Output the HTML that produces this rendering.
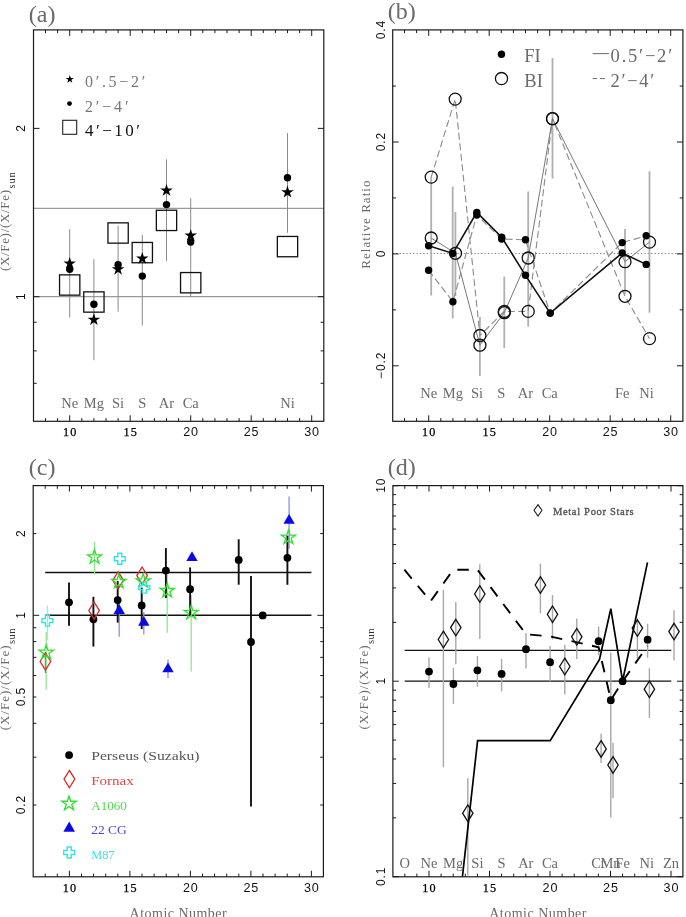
<!DOCTYPE html>
<html><head><meta charset="utf-8"><style>html,body{margin:0;padding:0;background:#fff;}svg{display:block;will-change:transform;}</style></head><body>
<svg width="686" height="917" viewBox="0 0 686 917">
<rect width="686" height="917" fill="#fff"/>
<line x1="33.5" y1="296.7" x2="323.8" y2="296.7" stroke="#9a9a9a" stroke-width="1.2" />
<line x1="33.5" y1="208.4" x2="323.8" y2="208.4" stroke="#9a9a9a" stroke-width="1.2" />
<line x1="69.7" y1="229.2" x2="69.7" y2="317.4" stroke="#8a8a8a" stroke-width="1" />
<line x1="93.9" y1="259" x2="93.9" y2="360.2" stroke="#8a8a8a" stroke-width="1" />
<line x1="118.1" y1="225.7" x2="118.1" y2="311.7" stroke="#8a8a8a" stroke-width="1" />
<line x1="142.3" y1="234.9" x2="142.3" y2="325.4" stroke="#8a8a8a" stroke-width="1" />
<line x1="166.5" y1="159.4" x2="166.5" y2="260.9" stroke="#8a8a8a" stroke-width="1" />
<line x1="190.7" y1="198.2" x2="190.7" y2="297.1" stroke="#8a8a8a" stroke-width="1" />
<line x1="287.5" y1="133.1" x2="287.5" y2="232.8" stroke="#8a8a8a" stroke-width="1" />
<rect x="59.55" y="274.85" width="20.3" height="20.3" fill="none" stroke="#111" stroke-width="1.3"/>
<rect x="83.75" y="291.85" width="20.3" height="20.3" fill="none" stroke="#111" stroke-width="1.3"/>
<rect x="107.95" y="222.85" width="20.3" height="20.3" fill="none" stroke="#111" stroke-width="1.3"/>
<rect x="132.15" y="242.45" width="20.3" height="20.3" fill="none" stroke="#111" stroke-width="1.3"/>
<rect x="156.35" y="210.25" width="20.3" height="20.3" fill="none" stroke="#111" stroke-width="1.3"/>
<rect x="180.55" y="272.55" width="20.3" height="20.3" fill="none" stroke="#111" stroke-width="1.3"/>
<rect x="277.35" y="236.45" width="20.3" height="20.3" fill="none" stroke="#111" stroke-width="1.3"/>
<circle cx="69.7" cy="269.3" r="3.7" fill="#000"/>
<circle cx="93.9" cy="304.3" r="3.7" fill="#000"/>
<circle cx="118.1" cy="264.7" r="3.7" fill="#000"/>
<circle cx="142.3" cy="276.1" r="3.7" fill="#000"/>
<circle cx="166.5" cy="204.6" r="3.7" fill="#000"/>
<circle cx="190.7" cy="242" r="3.7" fill="#000"/>
<circle cx="287.5" cy="177.7" r="3.7" fill="#000"/>
<polygon points="69.7,256.9 71.18,261.46 75.98,261.46 72.1,264.28 73.58,268.84 69.7,266.02 65.82,268.84 67.3,264.28 63.42,261.46 68.22,261.46" fill="#000"/>
<polygon points="93.9,313.1 95.38,317.66 100.18,317.66 96.3,320.48 97.78,325.04 93.9,322.22 90.02,325.04 91.5,320.48 87.62,317.66 92.42,317.66" fill="#000"/>
<polygon points="118.1,262.7 119.58,267.26 124.38,267.26 120.5,270.08 121.98,274.64 118.1,271.82 114.22,274.64 115.7,270.08 111.82,267.26 116.62,267.26" fill="#000"/>
<polygon points="142.3,251.9 143.78,256.46 148.58,256.46 144.7,259.28 146.18,263.84 142.3,261.02 138.42,263.84 139.9,259.28 136.02,256.46 140.82,256.46" fill="#000"/>
<polygon points="166.5,183.9 167.98,188.46 172.78,188.46 168.9,191.28 170.38,195.84 166.5,193.02 162.62,195.84 164.1,191.28 160.22,188.46 165.02,188.46" fill="#000"/>
<polygon points="190.7,228.9 192.18,233.46 196.98,233.46 193.1,236.28 194.58,240.84 190.7,238.02 186.82,240.84 188.3,236.28 184.42,233.46 189.22,233.46" fill="#000"/>
<polygon points="287.5,185.6 288.98,190.16 293.78,190.16 289.9,192.98 291.38,197.54 287.5,194.72 283.62,197.54 285.1,192.98 281.22,190.16 286.02,190.16" fill="#000"/>
<polygon points="69.8,75 70.77,77.97 73.89,77.97 71.36,79.81 72.33,82.78 69.8,80.94 67.27,82.78 68.24,79.81 65.71,77.97 68.83,77.97" fill="#000"/>
<circle cx="69.5" cy="103.6" r="2.4" fill="#000"/>
<rect x="62.7" y="120.3" width="14" height="14" fill="none" stroke="#222" stroke-width="1.1"/>
<rect x="33.5" y="29.9" width="290.3" height="391.4" fill="none" stroke="#1a1a1a" stroke-width="1.2"/>
<line x1="45.5" y1="421.3" x2="45.5" y2="418.1" stroke="#1a1a1a" stroke-width="1" />
<line x1="45.5" y1="29.9" x2="45.5" y2="33.1" stroke="#1a1a1a" stroke-width="1" />
<line x1="57.6" y1="421.3" x2="57.6" y2="418.1" stroke="#1a1a1a" stroke-width="1" />
<line x1="57.6" y1="29.9" x2="57.6" y2="33.1" stroke="#1a1a1a" stroke-width="1" />
<line x1="69.7" y1="421.3" x2="69.7" y2="415.3" stroke="#1a1a1a" stroke-width="1" />
<line x1="69.7" y1="29.9" x2="69.7" y2="35.9" stroke="#1a1a1a" stroke-width="1" />
<line x1="81.8" y1="421.3" x2="81.8" y2="418.1" stroke="#1a1a1a" stroke-width="1" />
<line x1="81.8" y1="29.9" x2="81.8" y2="33.1" stroke="#1a1a1a" stroke-width="1" />
<line x1="93.9" y1="421.3" x2="93.9" y2="418.1" stroke="#1a1a1a" stroke-width="1" />
<line x1="93.9" y1="29.9" x2="93.9" y2="33.1" stroke="#1a1a1a" stroke-width="1" />
<line x1="106" y1="421.3" x2="106" y2="418.1" stroke="#1a1a1a" stroke-width="1" />
<line x1="106" y1="29.9" x2="106" y2="33.1" stroke="#1a1a1a" stroke-width="1" />
<line x1="118.1" y1="421.3" x2="118.1" y2="418.1" stroke="#1a1a1a" stroke-width="1" />
<line x1="118.1" y1="29.9" x2="118.1" y2="33.1" stroke="#1a1a1a" stroke-width="1" />
<line x1="130.2" y1="421.3" x2="130.2" y2="415.3" stroke="#1a1a1a" stroke-width="1" />
<line x1="130.2" y1="29.9" x2="130.2" y2="35.9" stroke="#1a1a1a" stroke-width="1" />
<line x1="142.3" y1="421.3" x2="142.3" y2="418.1" stroke="#1a1a1a" stroke-width="1" />
<line x1="142.3" y1="29.9" x2="142.3" y2="33.1" stroke="#1a1a1a" stroke-width="1" />
<line x1="154.4" y1="421.3" x2="154.4" y2="418.1" stroke="#1a1a1a" stroke-width="1" />
<line x1="154.4" y1="29.9" x2="154.4" y2="33.1" stroke="#1a1a1a" stroke-width="1" />
<line x1="166.5" y1="421.3" x2="166.5" y2="418.1" stroke="#1a1a1a" stroke-width="1" />
<line x1="166.5" y1="29.9" x2="166.5" y2="33.1" stroke="#1a1a1a" stroke-width="1" />
<line x1="178.6" y1="421.3" x2="178.6" y2="418.1" stroke="#1a1a1a" stroke-width="1" />
<line x1="178.6" y1="29.9" x2="178.6" y2="33.1" stroke="#1a1a1a" stroke-width="1" />
<line x1="190.7" y1="421.3" x2="190.7" y2="415.3" stroke="#1a1a1a" stroke-width="1" />
<line x1="190.7" y1="29.9" x2="190.7" y2="35.9" stroke="#1a1a1a" stroke-width="1" />
<line x1="202.8" y1="421.3" x2="202.8" y2="418.1" stroke="#1a1a1a" stroke-width="1" />
<line x1="202.8" y1="29.9" x2="202.8" y2="33.1" stroke="#1a1a1a" stroke-width="1" />
<line x1="214.9" y1="421.3" x2="214.9" y2="418.1" stroke="#1a1a1a" stroke-width="1" />
<line x1="214.9" y1="29.9" x2="214.9" y2="33.1" stroke="#1a1a1a" stroke-width="1" />
<line x1="227" y1="421.3" x2="227" y2="418.1" stroke="#1a1a1a" stroke-width="1" />
<line x1="227" y1="29.9" x2="227" y2="33.1" stroke="#1a1a1a" stroke-width="1" />
<line x1="239.1" y1="421.3" x2="239.1" y2="418.1" stroke="#1a1a1a" stroke-width="1" />
<line x1="239.1" y1="29.9" x2="239.1" y2="33.1" stroke="#1a1a1a" stroke-width="1" />
<line x1="251.2" y1="421.3" x2="251.2" y2="415.3" stroke="#1a1a1a" stroke-width="1" />
<line x1="251.2" y1="29.9" x2="251.2" y2="35.9" stroke="#1a1a1a" stroke-width="1" />
<line x1="263.3" y1="421.3" x2="263.3" y2="418.1" stroke="#1a1a1a" stroke-width="1" />
<line x1="263.3" y1="29.9" x2="263.3" y2="33.1" stroke="#1a1a1a" stroke-width="1" />
<line x1="275.4" y1="421.3" x2="275.4" y2="418.1" stroke="#1a1a1a" stroke-width="1" />
<line x1="275.4" y1="29.9" x2="275.4" y2="33.1" stroke="#1a1a1a" stroke-width="1" />
<line x1="287.5" y1="421.3" x2="287.5" y2="418.1" stroke="#1a1a1a" stroke-width="1" />
<line x1="287.5" y1="29.9" x2="287.5" y2="33.1" stroke="#1a1a1a" stroke-width="1" />
<line x1="299.6" y1="421.3" x2="299.6" y2="418.1" stroke="#1a1a1a" stroke-width="1" />
<line x1="299.6" y1="29.9" x2="299.6" y2="33.1" stroke="#1a1a1a" stroke-width="1" />
<line x1="311.7" y1="421.3" x2="311.7" y2="415.3" stroke="#1a1a1a" stroke-width="1" />
<line x1="311.7" y1="29.9" x2="311.7" y2="35.9" stroke="#1a1a1a" stroke-width="1" />
<line x1="33.5" y1="296.7" x2="39.5" y2="296.7" stroke="#1a1a1a" stroke-width="1" />
<line x1="323.8" y1="296.7" x2="317.8" y2="296.7" stroke="#1a1a1a" stroke-width="1" />
<line x1="33.5" y1="128.39" x2="39.5" y2="128.39" stroke="#1a1a1a" stroke-width="1" />
<line x1="323.8" y1="128.39" x2="317.8" y2="128.39" stroke="#1a1a1a" stroke-width="1" />
<line x1="33.5" y1="383.31" x2="36.7" y2="383.31" stroke="#1a1a1a" stroke-width="1" />
<line x1="323.8" y1="383.31" x2="320.6" y2="383.31" stroke="#1a1a1a" stroke-width="1" />
<line x1="33.5" y1="350.88" x2="36.7" y2="350.88" stroke="#1a1a1a" stroke-width="1" />
<line x1="323.8" y1="350.88" x2="320.6" y2="350.88" stroke="#1a1a1a" stroke-width="1" />
<line x1="33.5" y1="322.28" x2="36.7" y2="322.28" stroke="#1a1a1a" stroke-width="1" />
<line x1="323.8" y1="322.28" x2="320.6" y2="322.28" stroke="#1a1a1a" stroke-width="1" />
<line x1="392.7" y1="253.5" x2="682.9" y2="253.5" stroke="#8a8a8a" stroke-width="1" stroke-dasharray="1.4 2"/>
<line x1="431.2" y1="177" x2="431.2" y2="295.5" stroke="#b0b0b0" stroke-width="1.8" />
<line x1="452.7" y1="186.5" x2="452.7" y2="318.5" stroke="#b0b0b0" stroke-width="1.8" />
<line x1="455.4" y1="212" x2="455.4" y2="296" stroke="#b0b0b0" stroke-width="1.8" />
<line x1="479.9" y1="317" x2="479.9" y2="376" stroke="#b0b0b0" stroke-width="1.8" />
<line x1="504.3" y1="276.6" x2="504.3" y2="348.1" stroke="#b0b0b0" stroke-width="1.8" />
<line x1="528.2" y1="191.4" x2="528.2" y2="326.6" stroke="#b0b0b0" stroke-width="1.8" />
<line x1="552.5" y1="58" x2="552.5" y2="178.6" stroke="#b0b0b0" stroke-width="1.8" />
<line x1="625" y1="229" x2="625" y2="294.4" stroke="#b0b0b0" stroke-width="1.8" />
<line x1="649.5" y1="171.3" x2="649.5" y2="312.7" stroke="#b0b0b0" stroke-width="1.8" />
<polyline points="431.2,177.1 455.2,99.1 479.9,335.5 504.3,311.5 528.2,311.4 552.5,118.7 625,296.3 649.5,338.6" fill="none" stroke="#8a8a8a" stroke-width="1.1" stroke-linejoin="miter" stroke-dasharray="7 3.5"/>
<polyline points="428.6,270.3 452.9,301.7 476.8,215 501.7,239 525.5,239.8 550.2,313.1 622.2,242.6 646.2,235.8" fill="none" stroke="#8a8a8a" stroke-width="1.1" stroke-linejoin="miter" stroke-dasharray="7 3.5"/>
<polyline points="431.2,238 455.5,253.3 479.9,345.2 504.3,312.7 528.2,258 552.5,118.7 625,261.7 649.5,242.1" fill="none" stroke="#777" stroke-width="1.0" stroke-linejoin="miter" />
<polyline points="428.6,245.7 452.9,253.4 476.8,212.4 501.7,237.3 525.5,275.3 550.2,313.1 622.2,253 646.2,264.4" fill="none" stroke="#111" stroke-width="1.6" stroke-linejoin="miter" />
<circle cx="428.6" cy="245.7" r="3.7" fill="#000"/>
<circle cx="452.9" cy="253.4" r="3.7" fill="#000"/>
<circle cx="476.8" cy="212.4" r="3.7" fill="#000"/>
<circle cx="501.7" cy="237.3" r="3.7" fill="#000"/>
<circle cx="525.5" cy="275.3" r="3.7" fill="#000"/>
<circle cx="550.2" cy="313.1" r="3.7" fill="#000"/>
<circle cx="622.2" cy="253" r="3.7" fill="#000"/>
<circle cx="646.2" cy="264.4" r="3.7" fill="#000"/>
<circle cx="428.6" cy="270.3" r="3.7" fill="#000"/>
<circle cx="452.9" cy="301.7" r="3.7" fill="#000"/>
<circle cx="476.8" cy="215" r="3.7" fill="#000"/>
<circle cx="501.7" cy="239" r="3.7" fill="#000"/>
<circle cx="525.5" cy="239.8" r="3.7" fill="#000"/>
<circle cx="550.2" cy="313.1" r="3.7" fill="#000"/>
<circle cx="622.2" cy="242.6" r="3.7" fill="#000"/>
<circle cx="646.2" cy="235.8" r="3.7" fill="#000"/>
<circle cx="431.2" cy="238" r="6" fill="none" stroke="#111" stroke-width="1.3"/>
<circle cx="455.5" cy="253.3" r="6" fill="none" stroke="#111" stroke-width="1.3"/>
<circle cx="479.9" cy="345.2" r="6" fill="none" stroke="#111" stroke-width="1.3"/>
<circle cx="504.3" cy="312.7" r="6" fill="none" stroke="#111" stroke-width="1.3"/>
<circle cx="528.2" cy="258" r="6" fill="none" stroke="#111" stroke-width="1.3"/>
<circle cx="552.5" cy="118.7" r="6" fill="none" stroke="#111" stroke-width="1.3"/>
<circle cx="625" cy="261.7" r="6" fill="none" stroke="#111" stroke-width="1.3"/>
<circle cx="649.5" cy="242.1" r="6" fill="none" stroke="#111" stroke-width="1.3"/>
<circle cx="431.2" cy="177.1" r="6" fill="none" stroke="#111" stroke-width="1.3"/>
<circle cx="455.2" cy="99.1" r="6" fill="none" stroke="#111" stroke-width="1.3"/>
<circle cx="479.9" cy="335.5" r="6" fill="none" stroke="#111" stroke-width="1.3"/>
<circle cx="504.3" cy="311.5" r="6" fill="none" stroke="#111" stroke-width="1.3"/>
<circle cx="528.2" cy="311.4" r="6" fill="none" stroke="#111" stroke-width="1.3"/>
<circle cx="552.5" cy="118.7" r="6" fill="none" stroke="#111" stroke-width="1.3"/>
<circle cx="625" cy="296.3" r="6" fill="none" stroke="#111" stroke-width="1.3"/>
<circle cx="649.5" cy="338.6" r="6" fill="none" stroke="#111" stroke-width="1.3"/>
<circle cx="501.5" cy="54.3" r="3.7" fill="#000"/>
<circle cx="501.5" cy="78.6" r="6.1" fill="none" stroke="#111" stroke-width="1.3"/>
<line x1="592.6" y1="53.6" x2="609" y2="53.6" stroke="#777" stroke-width="1.1" />
<line x1="592.6" y1="78.5" x2="597" y2="78.5" stroke="#777" stroke-width="1.1" />
<line x1="600" y1="78.5" x2="605" y2="78.5" stroke="#777" stroke-width="1.1" />
<rect x="392.7" y="29.9" width="290.2" height="391.4" fill="none" stroke="#1a1a1a" stroke-width="1.2"/>
<line x1="404.5" y1="421.3" x2="404.5" y2="418.1" stroke="#1a1a1a" stroke-width="1" />
<line x1="404.5" y1="29.9" x2="404.5" y2="33.1" stroke="#1a1a1a" stroke-width="1" />
<line x1="416.6" y1="421.3" x2="416.6" y2="418.1" stroke="#1a1a1a" stroke-width="1" />
<line x1="416.6" y1="29.9" x2="416.6" y2="33.1" stroke="#1a1a1a" stroke-width="1" />
<line x1="428.7" y1="421.3" x2="428.7" y2="415.3" stroke="#1a1a1a" stroke-width="1" />
<line x1="428.7" y1="29.9" x2="428.7" y2="35.9" stroke="#1a1a1a" stroke-width="1" />
<line x1="440.8" y1="421.3" x2="440.8" y2="418.1" stroke="#1a1a1a" stroke-width="1" />
<line x1="440.8" y1="29.9" x2="440.8" y2="33.1" stroke="#1a1a1a" stroke-width="1" />
<line x1="452.9" y1="421.3" x2="452.9" y2="418.1" stroke="#1a1a1a" stroke-width="1" />
<line x1="452.9" y1="29.9" x2="452.9" y2="33.1" stroke="#1a1a1a" stroke-width="1" />
<line x1="465" y1="421.3" x2="465" y2="418.1" stroke="#1a1a1a" stroke-width="1" />
<line x1="465" y1="29.9" x2="465" y2="33.1" stroke="#1a1a1a" stroke-width="1" />
<line x1="477.1" y1="421.3" x2="477.1" y2="418.1" stroke="#1a1a1a" stroke-width="1" />
<line x1="477.1" y1="29.9" x2="477.1" y2="33.1" stroke="#1a1a1a" stroke-width="1" />
<line x1="489.2" y1="421.3" x2="489.2" y2="415.3" stroke="#1a1a1a" stroke-width="1" />
<line x1="489.2" y1="29.9" x2="489.2" y2="35.9" stroke="#1a1a1a" stroke-width="1" />
<line x1="501.3" y1="421.3" x2="501.3" y2="418.1" stroke="#1a1a1a" stroke-width="1" />
<line x1="501.3" y1="29.9" x2="501.3" y2="33.1" stroke="#1a1a1a" stroke-width="1" />
<line x1="513.4" y1="421.3" x2="513.4" y2="418.1" stroke="#1a1a1a" stroke-width="1" />
<line x1="513.4" y1="29.9" x2="513.4" y2="33.1" stroke="#1a1a1a" stroke-width="1" />
<line x1="525.5" y1="421.3" x2="525.5" y2="418.1" stroke="#1a1a1a" stroke-width="1" />
<line x1="525.5" y1="29.9" x2="525.5" y2="33.1" stroke="#1a1a1a" stroke-width="1" />
<line x1="537.6" y1="421.3" x2="537.6" y2="418.1" stroke="#1a1a1a" stroke-width="1" />
<line x1="537.6" y1="29.9" x2="537.6" y2="33.1" stroke="#1a1a1a" stroke-width="1" />
<line x1="549.7" y1="421.3" x2="549.7" y2="415.3" stroke="#1a1a1a" stroke-width="1" />
<line x1="549.7" y1="29.9" x2="549.7" y2="35.9" stroke="#1a1a1a" stroke-width="1" />
<line x1="561.8" y1="421.3" x2="561.8" y2="418.1" stroke="#1a1a1a" stroke-width="1" />
<line x1="561.8" y1="29.9" x2="561.8" y2="33.1" stroke="#1a1a1a" stroke-width="1" />
<line x1="573.9" y1="421.3" x2="573.9" y2="418.1" stroke="#1a1a1a" stroke-width="1" />
<line x1="573.9" y1="29.9" x2="573.9" y2="33.1" stroke="#1a1a1a" stroke-width="1" />
<line x1="586" y1="421.3" x2="586" y2="418.1" stroke="#1a1a1a" stroke-width="1" />
<line x1="586" y1="29.9" x2="586" y2="33.1" stroke="#1a1a1a" stroke-width="1" />
<line x1="598.1" y1="421.3" x2="598.1" y2="418.1" stroke="#1a1a1a" stroke-width="1" />
<line x1="598.1" y1="29.9" x2="598.1" y2="33.1" stroke="#1a1a1a" stroke-width="1" />
<line x1="610.2" y1="421.3" x2="610.2" y2="415.3" stroke="#1a1a1a" stroke-width="1" />
<line x1="610.2" y1="29.9" x2="610.2" y2="35.9" stroke="#1a1a1a" stroke-width="1" />
<line x1="622.3" y1="421.3" x2="622.3" y2="418.1" stroke="#1a1a1a" stroke-width="1" />
<line x1="622.3" y1="29.9" x2="622.3" y2="33.1" stroke="#1a1a1a" stroke-width="1" />
<line x1="634.4" y1="421.3" x2="634.4" y2="418.1" stroke="#1a1a1a" stroke-width="1" />
<line x1="634.4" y1="29.9" x2="634.4" y2="33.1" stroke="#1a1a1a" stroke-width="1" />
<line x1="646.5" y1="421.3" x2="646.5" y2="418.1" stroke="#1a1a1a" stroke-width="1" />
<line x1="646.5" y1="29.9" x2="646.5" y2="33.1" stroke="#1a1a1a" stroke-width="1" />
<line x1="658.6" y1="421.3" x2="658.6" y2="418.1" stroke="#1a1a1a" stroke-width="1" />
<line x1="658.6" y1="29.9" x2="658.6" y2="33.1" stroke="#1a1a1a" stroke-width="1" />
<line x1="670.7" y1="421.3" x2="670.7" y2="415.3" stroke="#1a1a1a" stroke-width="1" />
<line x1="670.7" y1="29.9" x2="670.7" y2="35.9" stroke="#1a1a1a" stroke-width="1" />
<line x1="392.7" y1="142" x2="398.7" y2="142" stroke="#1a1a1a" stroke-width="1" />
<line x1="682.9" y1="142" x2="676.9" y2="142" stroke="#1a1a1a" stroke-width="1" />
<line x1="392.7" y1="253.9" x2="398.7" y2="253.9" stroke="#1a1a1a" stroke-width="1" />
<line x1="682.9" y1="253.9" x2="676.9" y2="253.9" stroke="#1a1a1a" stroke-width="1" />
<line x1="392.7" y1="365.8" x2="398.7" y2="365.8" stroke="#1a1a1a" stroke-width="1" />
<line x1="682.9" y1="365.8" x2="676.9" y2="365.8" stroke="#1a1a1a" stroke-width="1" />
<line x1="392.7" y1="86.05" x2="395.9" y2="86.05" stroke="#1a1a1a" stroke-width="1" />
<line x1="682.9" y1="86.05" x2="679.7" y2="86.05" stroke="#1a1a1a" stroke-width="1" />
<line x1="392.7" y1="197.95" x2="395.9" y2="197.95" stroke="#1a1a1a" stroke-width="1" />
<line x1="682.9" y1="197.95" x2="679.7" y2="197.95" stroke="#1a1a1a" stroke-width="1" />
<line x1="392.7" y1="309.85" x2="395.9" y2="309.85" stroke="#1a1a1a" stroke-width="1" />
<line x1="682.9" y1="309.85" x2="679.7" y2="309.85" stroke="#1a1a1a" stroke-width="1" />
<line x1="45.2" y1="615.3" x2="311.4" y2="615.3" stroke="#111" stroke-width="1.5" />
<line x1="45.2" y1="572.4" x2="311.4" y2="572.4" stroke="#111" stroke-width="1.5" />
<line x1="47.4" y1="605.6" x2="47.4" y2="640" stroke="#8ef0f0" stroke-width="1.3" />
<line x1="46.2" y1="632" x2="46.2" y2="689.7" stroke="#8ee88e" stroke-width="1.3" />
<line x1="94.5" y1="541.8" x2="94.5" y2="574.5" stroke="#8ee88e" stroke-width="1.3" />
<line x1="119.2" y1="600" x2="119.2" y2="636.7" stroke="#8c8cf0" stroke-width="1.3" />
<line x1="143.8" y1="612" x2="143.8" y2="634.6" stroke="#8c8cf0" stroke-width="1.3" />
<line x1="167.2" y1="575" x2="167.2" y2="632.7" stroke="#8ee88e" stroke-width="1.3" />
<line x1="168" y1="659.4" x2="168" y2="678" stroke="#8c8cf0" stroke-width="1.3" />
<line x1="191.2" y1="595" x2="191.2" y2="671.4" stroke="#8ee88e" stroke-width="1.3" />
<line x1="289.1" y1="496.6" x2="289.1" y2="548.8" stroke="#8c8cf0" stroke-width="1.3" />
<line x1="45.4" y1="652" x2="45.4" y2="673" stroke="#888" stroke-width="1.3" />
<line x1="69" y1="582.6" x2="69" y2="625.8" stroke="#111" stroke-width="1.9" />
<line x1="93.4" y1="596.8" x2="93.4" y2="646.6" stroke="#111" stroke-width="1.9" />
<line x1="117.7" y1="581" x2="117.7" y2="622.6" stroke="#111" stroke-width="1.9" />
<line x1="141.7" y1="587.6" x2="141.7" y2="629.1" stroke="#111" stroke-width="1.9" />
<line x1="165.9" y1="548.1" x2="165.9" y2="598" stroke="#111" stroke-width="1.9" />
<line x1="190.1" y1="567.4" x2="190.1" y2="615.4" stroke="#111" stroke-width="1.9" />
<line x1="238.7" y1="539.3" x2="238.7" y2="584.7" stroke="#111" stroke-width="1.9" />
<line x1="251" y1="575.9" x2="251" y2="806.5" stroke="#111" stroke-width="1.9" />
<line x1="287.4" y1="535.6" x2="287.4" y2="584.8" stroke="#111" stroke-width="1.9" />
<circle cx="69" cy="602.3" r="3.9" fill="#000"/>
<circle cx="93.4" cy="619.3" r="3.9" fill="#000"/>
<circle cx="117.7" cy="600.1" r="3.9" fill="#000"/>
<circle cx="141.7" cy="605.5" r="3.9" fill="#000"/>
<circle cx="165.9" cy="570.6" r="3.9" fill="#000"/>
<circle cx="190.1" cy="589.2" r="3.9" fill="#000"/>
<circle cx="238.7" cy="559.9" r="3.9" fill="#000"/>
<circle cx="251" cy="642" r="3.9" fill="#000"/>
<circle cx="262.7" cy="615.4" r="3.9" fill="#000"/>
<circle cx="287.4" cy="557.8" r="3.9" fill="#000"/>
<polygon points="45.4,652.9 50.7,661.5 45.4,670.1 40.1,661.5" fill="none" stroke="#d82a2a" stroke-width="1.3"/>
<polygon points="94.1,602 99.4,610.6 94.1,619.2 88.8,610.6" fill="none" stroke="#d82a2a" stroke-width="1.3"/>
<polygon points="118.1,571.7 123.4,580.3 118.1,588.9 112.8,580.3" fill="none" stroke="#d82a2a" stroke-width="1.3"/>
<polygon points="142.1,567 147.4,575.6 142.1,584.2 136.8,575.6" fill="none" stroke="#d82a2a" stroke-width="1.3"/>
<polygon points="46.2,645 47.88,650.18 53.33,650.18 48.92,653.39 50.61,658.57 46.2,655.37 41.79,658.57 43.48,653.39 39.07,650.18 44.52,650.18" fill="none" stroke="#2ee02e" stroke-width="1.3" stroke-linejoin="miter"/>
<polygon points="94.5,549.6 96.18,554.78 101.63,554.78 97.22,557.99 98.91,563.17 94.5,559.97 90.09,563.17 91.78,557.99 87.37,554.78 92.82,554.78" fill="none" stroke="#2ee02e" stroke-width="1.3" stroke-linejoin="miter"/>
<polygon points="118.8,574.3 120.48,579.48 125.93,579.48 121.52,582.69 123.21,587.87 118.8,584.66 114.39,587.87 116.08,582.69 111.67,579.48 117.12,579.48" fill="none" stroke="#2ee02e" stroke-width="1.3" stroke-linejoin="miter"/>
<polygon points="143.2,573.6 144.88,578.78 150.33,578.78 145.92,581.99 147.61,587.17 143.2,583.97 138.79,587.17 140.48,581.99 136.07,578.78 141.52,578.78" fill="none" stroke="#2ee02e" stroke-width="1.3" stroke-linejoin="miter"/>
<polygon points="167.2,583.3 168.88,588.48 174.33,588.48 169.92,591.69 171.61,596.87 167.2,593.66 162.79,596.87 164.48,591.69 160.07,588.48 165.52,588.48" fill="none" stroke="#2ee02e" stroke-width="1.3" stroke-linejoin="miter"/>
<polygon points="191.2,605.2 192.88,610.38 198.33,610.38 193.92,613.59 195.61,618.77 191.2,615.57 186.79,618.77 188.48,613.59 184.07,610.38 189.52,610.38" fill="none" stroke="#2ee02e" stroke-width="1.3" stroke-linejoin="miter"/>
<polygon points="288.4,529.9 290.08,535.08 295.53,535.08 291.12,538.29 292.81,543.47 288.4,540.26 283.99,543.47 285.68,538.29 281.27,535.08 286.72,535.08" fill="none" stroke="#2ee02e" stroke-width="1.3" stroke-linejoin="miter"/>
<polygon points="119.2,604.1 124.9,613.9 113.5,613.9" fill="#0a0ae6"/>
<polygon points="143.8,615.9 149.5,625.7 138.1,625.7" fill="#0a0ae6"/>
<polygon points="168,662.5 173.7,672.3 162.3,672.3" fill="#0a0ae6"/>
<polygon points="192,551.3 197.7,561.1 186.3,561.1" fill="#0a0ae6"/>
<polygon points="289.1,513.9 294.8,523.7 283.4,523.7" fill="#0a0ae6"/>
<polygon points="45.4,615.1 49.4,615.1 49.4,618.6 52.9,618.6 52.9,622.6 49.4,622.6 49.4,626.1 45.4,626.1 45.4,622.6 41.9,622.6 41.9,618.6 45.4,618.6" fill="none" stroke="#2ee6e6" stroke-width="1.4"/>
<polygon points="117.8,553.3 121.8,553.3 121.8,556.8 125.3,556.8 125.3,560.8 121.8,560.8 121.8,564.3 117.8,564.3 117.8,560.8 114.3,560.8 114.3,556.8 117.8,556.8" fill="none" stroke="#2ee6e6" stroke-width="1.4"/>
<polygon points="142.3,582.1 146.3,582.1 146.3,585.6 149.8,585.6 149.8,589.6 146.3,589.6 146.3,593.1 142.3,593.1 142.3,589.6 138.8,589.6 138.8,585.6 142.3,585.6" fill="none" stroke="#2ee6e6" stroke-width="1.4"/>
<circle cx="69.1" cy="755.1" r="3.9" fill="#000"/>
<polygon points="69.4,770.4 74.8,779.1 69.4,787.8 64,779.1" fill="none" stroke="#d82a2a" stroke-width="1.3"/>
<polygon points="69,796 70.71,801.25 76.23,801.25 71.76,804.5 73.47,809.75 69,806.5 64.53,809.75 66.24,804.5 61.77,801.25 67.29,801.25" fill="none" stroke="#2ee02e" stroke-width="1.3" stroke-linejoin="miter"/>
<polygon points="69.2,821.5 75,831.7 63.4,831.7" fill="#0a0ae6"/>
<polygon points="67.2,847 71.2,847 71.2,850.5 74.7,850.5 74.7,854.5 71.2,854.5 71.2,858 67.2,858 67.2,854.5 63.7,854.5 63.7,850.5 67.2,850.5" fill="none" stroke="#2ee6e6" stroke-width="1.4"/>
<rect x="33.2" y="485.6" width="290.2" height="391.2" fill="none" stroke="#1a1a1a" stroke-width="1.2"/>
<line x1="45.2" y1="876.8" x2="45.2" y2="873.6" stroke="#1a1a1a" stroke-width="1" />
<line x1="45.2" y1="485.6" x2="45.2" y2="488.8" stroke="#1a1a1a" stroke-width="1" />
<line x1="57.3" y1="876.8" x2="57.3" y2="873.6" stroke="#1a1a1a" stroke-width="1" />
<line x1="57.3" y1="485.6" x2="57.3" y2="488.8" stroke="#1a1a1a" stroke-width="1" />
<line x1="69.4" y1="876.8" x2="69.4" y2="870.8" stroke="#1a1a1a" stroke-width="1" />
<line x1="69.4" y1="485.6" x2="69.4" y2="491.6" stroke="#1a1a1a" stroke-width="1" />
<line x1="81.5" y1="876.8" x2="81.5" y2="873.6" stroke="#1a1a1a" stroke-width="1" />
<line x1="81.5" y1="485.6" x2="81.5" y2="488.8" stroke="#1a1a1a" stroke-width="1" />
<line x1="93.6" y1="876.8" x2="93.6" y2="873.6" stroke="#1a1a1a" stroke-width="1" />
<line x1="93.6" y1="485.6" x2="93.6" y2="488.8" stroke="#1a1a1a" stroke-width="1" />
<line x1="105.7" y1="876.8" x2="105.7" y2="873.6" stroke="#1a1a1a" stroke-width="1" />
<line x1="105.7" y1="485.6" x2="105.7" y2="488.8" stroke="#1a1a1a" stroke-width="1" />
<line x1="117.8" y1="876.8" x2="117.8" y2="873.6" stroke="#1a1a1a" stroke-width="1" />
<line x1="117.8" y1="485.6" x2="117.8" y2="488.8" stroke="#1a1a1a" stroke-width="1" />
<line x1="129.9" y1="876.8" x2="129.9" y2="870.8" stroke="#1a1a1a" stroke-width="1" />
<line x1="129.9" y1="485.6" x2="129.9" y2="491.6" stroke="#1a1a1a" stroke-width="1" />
<line x1="142" y1="876.8" x2="142" y2="873.6" stroke="#1a1a1a" stroke-width="1" />
<line x1="142" y1="485.6" x2="142" y2="488.8" stroke="#1a1a1a" stroke-width="1" />
<line x1="154.1" y1="876.8" x2="154.1" y2="873.6" stroke="#1a1a1a" stroke-width="1" />
<line x1="154.1" y1="485.6" x2="154.1" y2="488.8" stroke="#1a1a1a" stroke-width="1" />
<line x1="166.2" y1="876.8" x2="166.2" y2="873.6" stroke="#1a1a1a" stroke-width="1" />
<line x1="166.2" y1="485.6" x2="166.2" y2="488.8" stroke="#1a1a1a" stroke-width="1" />
<line x1="178.3" y1="876.8" x2="178.3" y2="873.6" stroke="#1a1a1a" stroke-width="1" />
<line x1="178.3" y1="485.6" x2="178.3" y2="488.8" stroke="#1a1a1a" stroke-width="1" />
<line x1="190.4" y1="876.8" x2="190.4" y2="870.8" stroke="#1a1a1a" stroke-width="1" />
<line x1="190.4" y1="485.6" x2="190.4" y2="491.6" stroke="#1a1a1a" stroke-width="1" />
<line x1="202.5" y1="876.8" x2="202.5" y2="873.6" stroke="#1a1a1a" stroke-width="1" />
<line x1="202.5" y1="485.6" x2="202.5" y2="488.8" stroke="#1a1a1a" stroke-width="1" />
<line x1="214.6" y1="876.8" x2="214.6" y2="873.6" stroke="#1a1a1a" stroke-width="1" />
<line x1="214.6" y1="485.6" x2="214.6" y2="488.8" stroke="#1a1a1a" stroke-width="1" />
<line x1="226.7" y1="876.8" x2="226.7" y2="873.6" stroke="#1a1a1a" stroke-width="1" />
<line x1="226.7" y1="485.6" x2="226.7" y2="488.8" stroke="#1a1a1a" stroke-width="1" />
<line x1="238.8" y1="876.8" x2="238.8" y2="873.6" stroke="#1a1a1a" stroke-width="1" />
<line x1="238.8" y1="485.6" x2="238.8" y2="488.8" stroke="#1a1a1a" stroke-width="1" />
<line x1="250.9" y1="876.8" x2="250.9" y2="870.8" stroke="#1a1a1a" stroke-width="1" />
<line x1="250.9" y1="485.6" x2="250.9" y2="491.6" stroke="#1a1a1a" stroke-width="1" />
<line x1="263" y1="876.8" x2="263" y2="873.6" stroke="#1a1a1a" stroke-width="1" />
<line x1="263" y1="485.6" x2="263" y2="488.8" stroke="#1a1a1a" stroke-width="1" />
<line x1="275.1" y1="876.8" x2="275.1" y2="873.6" stroke="#1a1a1a" stroke-width="1" />
<line x1="275.1" y1="485.6" x2="275.1" y2="488.8" stroke="#1a1a1a" stroke-width="1" />
<line x1="287.2" y1="876.8" x2="287.2" y2="873.6" stroke="#1a1a1a" stroke-width="1" />
<line x1="287.2" y1="485.6" x2="287.2" y2="488.8" stroke="#1a1a1a" stroke-width="1" />
<line x1="299.3" y1="876.8" x2="299.3" y2="873.6" stroke="#1a1a1a" stroke-width="1" />
<line x1="299.3" y1="485.6" x2="299.3" y2="488.8" stroke="#1a1a1a" stroke-width="1" />
<line x1="311.4" y1="876.8" x2="311.4" y2="870.8" stroke="#1a1a1a" stroke-width="1" />
<line x1="311.4" y1="485.6" x2="311.4" y2="491.6" stroke="#1a1a1a" stroke-width="1" />
<line x1="33.2" y1="615.3" x2="39.2" y2="615.3" stroke="#1a1a1a" stroke-width="1" />
<line x1="323.4" y1="615.3" x2="317.4" y2="615.3" stroke="#1a1a1a" stroke-width="1" />
<line x1="33.2" y1="805" x2="36.4" y2="805" stroke="#1a1a1a" stroke-width="1" />
<line x1="323.4" y1="805" x2="320.2" y2="805" stroke="#1a1a1a" stroke-width="1" />
<line x1="33.2" y1="757.21" x2="36.4" y2="757.21" stroke="#1a1a1a" stroke-width="1" />
<line x1="323.4" y1="757.21" x2="320.2" y2="757.21" stroke="#1a1a1a" stroke-width="1" />
<line x1="33.2" y1="723.3" x2="36.4" y2="723.3" stroke="#1a1a1a" stroke-width="1" />
<line x1="323.4" y1="723.3" x2="320.2" y2="723.3" stroke="#1a1a1a" stroke-width="1" />
<line x1="33.2" y1="697" x2="36.4" y2="697" stroke="#1a1a1a" stroke-width="1" />
<line x1="323.4" y1="697" x2="320.2" y2="697" stroke="#1a1a1a" stroke-width="1" />
<line x1="33.2" y1="675.51" x2="36.4" y2="675.51" stroke="#1a1a1a" stroke-width="1" />
<line x1="323.4" y1="675.51" x2="320.2" y2="675.51" stroke="#1a1a1a" stroke-width="1" />
<line x1="33.2" y1="657.34" x2="36.4" y2="657.34" stroke="#1a1a1a" stroke-width="1" />
<line x1="323.4" y1="657.34" x2="320.2" y2="657.34" stroke="#1a1a1a" stroke-width="1" />
<line x1="33.2" y1="641.6" x2="36.4" y2="641.6" stroke="#1a1a1a" stroke-width="1" />
<line x1="323.4" y1="641.6" x2="320.2" y2="641.6" stroke="#1a1a1a" stroke-width="1" />
<line x1="33.2" y1="627.72" x2="36.4" y2="627.72" stroke="#1a1a1a" stroke-width="1" />
<line x1="323.4" y1="627.72" x2="320.2" y2="627.72" stroke="#1a1a1a" stroke-width="1" />
<line x1="33.2" y1="533.6" x2="36.4" y2="533.6" stroke="#1a1a1a" stroke-width="1" />
<line x1="323.4" y1="533.6" x2="320.2" y2="533.6" stroke="#1a1a1a" stroke-width="1" />
<line x1="404.7" y1="681.2" x2="671.3" y2="681.2" stroke="#111" stroke-width="1.2" />
<line x1="404.7" y1="650.3" x2="671.3" y2="650.3" stroke="#111" stroke-width="1.2" />
<line x1="429" y1="657.5" x2="429" y2="688" stroke="#a8a8a8" stroke-width="1.4" />
<line x1="453.4" y1="667.9" x2="453.4" y2="703.9" stroke="#a8a8a8" stroke-width="1.4" />
<line x1="477.4" y1="655.9" x2="477.4" y2="686.6" stroke="#a8a8a8" stroke-width="1.4" />
<line x1="501.6" y1="658.8" x2="501.6" y2="691.4" stroke="#a8a8a8" stroke-width="1.4" />
<line x1="526" y1="633.1" x2="526" y2="668.6" stroke="#a8a8a8" stroke-width="1.4" />
<line x1="550.1" y1="646" x2="550.1" y2="681.4" stroke="#a8a8a8" stroke-width="1.4" />
<line x1="598.6" y1="626.4" x2="598.6" y2="655.2" stroke="#a8a8a8" stroke-width="1.4" />
<line x1="610.8" y1="652.6" x2="610.8" y2="817.5" stroke="#a8a8a8" stroke-width="1.4" />
<line x1="647.6" y1="623.8" x2="647.6" y2="657.8" stroke="#a8a8a8" stroke-width="1.4" />
<line x1="443.4" y1="590" x2="443.4" y2="767.4" stroke="#a8a8a8" stroke-width="1.4" />
<line x1="455.8" y1="602" x2="455.8" y2="664.3" stroke="#a8a8a8" stroke-width="1.4" />
<line x1="467.8" y1="778.2" x2="467.8" y2="875.5" stroke="#a8a8a8" stroke-width="1.4" />
<line x1="479.8" y1="564.3" x2="479.8" y2="639.1" stroke="#a8a8a8" stroke-width="1.4" />
<line x1="540.4" y1="563.6" x2="540.4" y2="613.3" stroke="#a8a8a8" stroke-width="1.4" />
<line x1="552.5" y1="595" x2="552.5" y2="639.5" stroke="#a8a8a8" stroke-width="1.4" />
<line x1="564.8" y1="644.7" x2="564.8" y2="694.5" stroke="#a8a8a8" stroke-width="1.4" />
<line x1="576.8" y1="618.6" x2="576.8" y2="659.1" stroke="#a8a8a8" stroke-width="1.4" />
<line x1="601.1" y1="733.8" x2="601.1" y2="763" stroke="#a8a8a8" stroke-width="1.4" />
<line x1="613" y1="742.7" x2="613" y2="798.2" stroke="#a8a8a8" stroke-width="1.4" />
<line x1="637.4" y1="618.6" x2="637.4" y2="657.8" stroke="#a8a8a8" stroke-width="1.4" />
<line x1="649.4" y1="668.3" x2="649.4" y2="718" stroke="#a8a8a8" stroke-width="1.4" />
<line x1="674" y1="610.2" x2="674" y2="660.5" stroke="#a8a8a8" stroke-width="1.4" />
<clipPath id="cd"><rect x="392.9" y="485.6" width="290" height="391.2"/></clipPath>
<polyline points="461.5,885 477.6,740.6 550.2,740.6 599.5,659.5 610.8,608.7 622.6,681 647.5,562.3" fill="none" stroke="#000" stroke-width="1.7" stroke-linejoin="miter" clip-path="url(#cd)"/>
<polyline points="404.4,569.7 430.6,601.3 453.2,569.7 477.4,569.7 526.1,634.3 550.1,636.4 598.6,647.2 610.9,700 622.6,681.4 647.5,646" fill="none" stroke="#000" stroke-width="1.9" stroke-linejoin="miter" stroke-dasharray="11.5 9.5"/>
<circle cx="429" cy="671.6" r="3.9" fill="#000"/>
<circle cx="453.4" cy="684" r="3.9" fill="#000"/>
<circle cx="477.4" cy="670.3" r="3.9" fill="#000"/>
<circle cx="501.6" cy="673.9" r="3.9" fill="#000"/>
<circle cx="526" cy="649.2" r="3.9" fill="#000"/>
<circle cx="550.1" cy="662.2" r="3.9" fill="#000"/>
<circle cx="598.6" cy="641.2" r="3.9" fill="#000"/>
<circle cx="610.8" cy="700.2" r="3.9" fill="#000"/>
<circle cx="622.6" cy="681.2" r="3.9" fill="#000"/>
<circle cx="647.6" cy="639.7" r="3.9" fill="#000"/>
<polygon points="443.4,631.2 448.6,639.5 443.4,647.8 438.2,639.5" fill="none" stroke="#111" stroke-width="1.3"/>
<polygon points="455.8,619.3 461,627.6 455.8,635.9 450.6,627.6" fill="none" stroke="#111" stroke-width="1.3"/>
<polygon points="467.8,804.9 473,813.2 467.8,821.5 462.6,813.2" fill="none" stroke="#111" stroke-width="1.3"/>
<polygon points="479.8,585.7 485,594 479.8,602.3 474.6,594" fill="none" stroke="#111" stroke-width="1.3"/>
<polygon points="540.4,576.7 545.6,585 540.4,593.3 535.2,585" fill="none" stroke="#111" stroke-width="1.3"/>
<polygon points="552.5,606 557.7,614.3 552.5,622.6 547.3,614.3" fill="none" stroke="#111" stroke-width="1.3"/>
<polygon points="564.8,658.2 570,666.5 564.8,674.8 559.6,666.5" fill="none" stroke="#111" stroke-width="1.3"/>
<polygon points="576.8,628.5 582,636.8 576.8,645.1 571.6,636.8" fill="none" stroke="#111" stroke-width="1.3"/>
<polygon points="601.1,740.6 606.3,748.9 601.1,757.2 595.9,748.9" fill="none" stroke="#111" stroke-width="1.3"/>
<polygon points="613,756.7 618.2,765 613,773.3 607.8,765" fill="none" stroke="#111" stroke-width="1.3"/>
<polygon points="637.4,619.8 642.6,628.1 637.4,636.4 632.2,628.1" fill="none" stroke="#111" stroke-width="1.3"/>
<polygon points="649.4,680.9 654.6,689.2 649.4,697.5 644.2,689.2" fill="none" stroke="#111" stroke-width="1.3"/>
<polygon points="674,623.3 679.2,631.6 674,639.9 668.8,631.6" fill="none" stroke="#111" stroke-width="1.3"/>
<polygon points="538,504.6 542,510.3 538,516 534,510.3" fill="none" stroke="#222" stroke-width="1.1"/>
<rect x="392.9" y="485.6" width="290" height="391.2" fill="none" stroke="#1a1a1a" stroke-width="1.2"/>
<line x1="404.8" y1="876.8" x2="404.8" y2="873.6" stroke="#1a1a1a" stroke-width="1" />
<line x1="404.8" y1="485.6" x2="404.8" y2="488.8" stroke="#1a1a1a" stroke-width="1" />
<line x1="416.9" y1="876.8" x2="416.9" y2="873.6" stroke="#1a1a1a" stroke-width="1" />
<line x1="416.9" y1="485.6" x2="416.9" y2="488.8" stroke="#1a1a1a" stroke-width="1" />
<line x1="429" y1="876.8" x2="429" y2="870.8" stroke="#1a1a1a" stroke-width="1" />
<line x1="429" y1="485.6" x2="429" y2="491.6" stroke="#1a1a1a" stroke-width="1" />
<line x1="441.1" y1="876.8" x2="441.1" y2="873.6" stroke="#1a1a1a" stroke-width="1" />
<line x1="441.1" y1="485.6" x2="441.1" y2="488.8" stroke="#1a1a1a" stroke-width="1" />
<line x1="453.2" y1="876.8" x2="453.2" y2="873.6" stroke="#1a1a1a" stroke-width="1" />
<line x1="453.2" y1="485.6" x2="453.2" y2="488.8" stroke="#1a1a1a" stroke-width="1" />
<line x1="465.3" y1="876.8" x2="465.3" y2="873.6" stroke="#1a1a1a" stroke-width="1" />
<line x1="465.3" y1="485.6" x2="465.3" y2="488.8" stroke="#1a1a1a" stroke-width="1" />
<line x1="477.4" y1="876.8" x2="477.4" y2="873.6" stroke="#1a1a1a" stroke-width="1" />
<line x1="477.4" y1="485.6" x2="477.4" y2="488.8" stroke="#1a1a1a" stroke-width="1" />
<line x1="489.5" y1="876.8" x2="489.5" y2="870.8" stroke="#1a1a1a" stroke-width="1" />
<line x1="489.5" y1="485.6" x2="489.5" y2="491.6" stroke="#1a1a1a" stroke-width="1" />
<line x1="501.6" y1="876.8" x2="501.6" y2="873.6" stroke="#1a1a1a" stroke-width="1" />
<line x1="501.6" y1="485.6" x2="501.6" y2="488.8" stroke="#1a1a1a" stroke-width="1" />
<line x1="513.7" y1="876.8" x2="513.7" y2="873.6" stroke="#1a1a1a" stroke-width="1" />
<line x1="513.7" y1="485.6" x2="513.7" y2="488.8" stroke="#1a1a1a" stroke-width="1" />
<line x1="525.8" y1="876.8" x2="525.8" y2="873.6" stroke="#1a1a1a" stroke-width="1" />
<line x1="525.8" y1="485.6" x2="525.8" y2="488.8" stroke="#1a1a1a" stroke-width="1" />
<line x1="537.9" y1="876.8" x2="537.9" y2="873.6" stroke="#1a1a1a" stroke-width="1" />
<line x1="537.9" y1="485.6" x2="537.9" y2="488.8" stroke="#1a1a1a" stroke-width="1" />
<line x1="550" y1="876.8" x2="550" y2="870.8" stroke="#1a1a1a" stroke-width="1" />
<line x1="550" y1="485.6" x2="550" y2="491.6" stroke="#1a1a1a" stroke-width="1" />
<line x1="562.1" y1="876.8" x2="562.1" y2="873.6" stroke="#1a1a1a" stroke-width="1" />
<line x1="562.1" y1="485.6" x2="562.1" y2="488.8" stroke="#1a1a1a" stroke-width="1" />
<line x1="574.2" y1="876.8" x2="574.2" y2="873.6" stroke="#1a1a1a" stroke-width="1" />
<line x1="574.2" y1="485.6" x2="574.2" y2="488.8" stroke="#1a1a1a" stroke-width="1" />
<line x1="586.3" y1="876.8" x2="586.3" y2="873.6" stroke="#1a1a1a" stroke-width="1" />
<line x1="586.3" y1="485.6" x2="586.3" y2="488.8" stroke="#1a1a1a" stroke-width="1" />
<line x1="598.4" y1="876.8" x2="598.4" y2="873.6" stroke="#1a1a1a" stroke-width="1" />
<line x1="598.4" y1="485.6" x2="598.4" y2="488.8" stroke="#1a1a1a" stroke-width="1" />
<line x1="610.5" y1="876.8" x2="610.5" y2="870.8" stroke="#1a1a1a" stroke-width="1" />
<line x1="610.5" y1="485.6" x2="610.5" y2="491.6" stroke="#1a1a1a" stroke-width="1" />
<line x1="622.6" y1="876.8" x2="622.6" y2="873.6" stroke="#1a1a1a" stroke-width="1" />
<line x1="622.6" y1="485.6" x2="622.6" y2="488.8" stroke="#1a1a1a" stroke-width="1" />
<line x1="634.7" y1="876.8" x2="634.7" y2="873.6" stroke="#1a1a1a" stroke-width="1" />
<line x1="634.7" y1="485.6" x2="634.7" y2="488.8" stroke="#1a1a1a" stroke-width="1" />
<line x1="646.8" y1="876.8" x2="646.8" y2="873.6" stroke="#1a1a1a" stroke-width="1" />
<line x1="646.8" y1="485.6" x2="646.8" y2="488.8" stroke="#1a1a1a" stroke-width="1" />
<line x1="658.9" y1="876.8" x2="658.9" y2="873.6" stroke="#1a1a1a" stroke-width="1" />
<line x1="658.9" y1="485.6" x2="658.9" y2="488.8" stroke="#1a1a1a" stroke-width="1" />
<line x1="671" y1="876.8" x2="671" y2="870.8" stroke="#1a1a1a" stroke-width="1" />
<line x1="671" y1="485.6" x2="671" y2="491.6" stroke="#1a1a1a" stroke-width="1" />
<line x1="392.9" y1="681.2" x2="398.9" y2="681.2" stroke="#1a1a1a" stroke-width="1" />
<line x1="682.9" y1="681.2" x2="676.9" y2="681.2" stroke="#1a1a1a" stroke-width="1" />
<line x1="392.9" y1="485.7" x2="398.9" y2="485.7" stroke="#1a1a1a" stroke-width="1" />
<line x1="682.9" y1="485.7" x2="676.9" y2="485.7" stroke="#1a1a1a" stroke-width="1" />
<line x1="392.9" y1="876.7" x2="398.9" y2="876.7" stroke="#1a1a1a" stroke-width="1" />
<line x1="682.9" y1="876.7" x2="676.9" y2="876.7" stroke="#1a1a1a" stroke-width="1" />
<line x1="392.9" y1="817.85" x2="396.1" y2="817.85" stroke="#1a1a1a" stroke-width="1" />
<line x1="682.9" y1="817.85" x2="679.7" y2="817.85" stroke="#1a1a1a" stroke-width="1" />
<line x1="392.9" y1="783.42" x2="396.1" y2="783.42" stroke="#1a1a1a" stroke-width="1" />
<line x1="682.9" y1="783.42" x2="679.7" y2="783.42" stroke="#1a1a1a" stroke-width="1" />
<line x1="392.9" y1="759" x2="396.1" y2="759" stroke="#1a1a1a" stroke-width="1" />
<line x1="682.9" y1="759" x2="679.7" y2="759" stroke="#1a1a1a" stroke-width="1" />
<line x1="392.9" y1="740.05" x2="396.1" y2="740.05" stroke="#1a1a1a" stroke-width="1" />
<line x1="682.9" y1="740.05" x2="679.7" y2="740.05" stroke="#1a1a1a" stroke-width="1" />
<line x1="392.9" y1="724.57" x2="396.1" y2="724.57" stroke="#1a1a1a" stroke-width="1" />
<line x1="682.9" y1="724.57" x2="679.7" y2="724.57" stroke="#1a1a1a" stroke-width="1" />
<line x1="392.9" y1="711.48" x2="396.1" y2="711.48" stroke="#1a1a1a" stroke-width="1" />
<line x1="682.9" y1="711.48" x2="679.7" y2="711.48" stroke="#1a1a1a" stroke-width="1" />
<line x1="392.9" y1="700.15" x2="396.1" y2="700.15" stroke="#1a1a1a" stroke-width="1" />
<line x1="682.9" y1="700.15" x2="679.7" y2="700.15" stroke="#1a1a1a" stroke-width="1" />
<line x1="392.9" y1="690.15" x2="396.1" y2="690.15" stroke="#1a1a1a" stroke-width="1" />
<line x1="682.9" y1="690.15" x2="679.7" y2="690.15" stroke="#1a1a1a" stroke-width="1" />
<line x1="392.9" y1="622.35" x2="396.1" y2="622.35" stroke="#1a1a1a" stroke-width="1" />
<line x1="682.9" y1="622.35" x2="679.7" y2="622.35" stroke="#1a1a1a" stroke-width="1" />
<line x1="392.9" y1="587.92" x2="396.1" y2="587.92" stroke="#1a1a1a" stroke-width="1" />
<line x1="682.9" y1="587.92" x2="679.7" y2="587.92" stroke="#1a1a1a" stroke-width="1" />
<line x1="392.9" y1="563.5" x2="396.1" y2="563.5" stroke="#1a1a1a" stroke-width="1" />
<line x1="682.9" y1="563.5" x2="679.7" y2="563.5" stroke="#1a1a1a" stroke-width="1" />
<line x1="392.9" y1="544.55" x2="396.1" y2="544.55" stroke="#1a1a1a" stroke-width="1" />
<line x1="682.9" y1="544.55" x2="679.7" y2="544.55" stroke="#1a1a1a" stroke-width="1" />
<line x1="392.9" y1="529.07" x2="396.1" y2="529.07" stroke="#1a1a1a" stroke-width="1" />
<line x1="682.9" y1="529.07" x2="679.7" y2="529.07" stroke="#1a1a1a" stroke-width="1" />
<line x1="392.9" y1="515.98" x2="396.1" y2="515.98" stroke="#1a1a1a" stroke-width="1" />
<line x1="682.9" y1="515.98" x2="679.7" y2="515.98" stroke="#1a1a1a" stroke-width="1" />
<line x1="392.9" y1="504.65" x2="396.1" y2="504.65" stroke="#1a1a1a" stroke-width="1" />
<line x1="682.9" y1="504.65" x2="679.7" y2="504.65" stroke="#1a1a1a" stroke-width="1" />
<line x1="392.9" y1="494.65" x2="396.1" y2="494.65" stroke="#1a1a1a" stroke-width="1" />
<line x1="682.9" y1="494.65" x2="679.7" y2="494.65" stroke="#1a1a1a" stroke-width="1" />
<text x="28.8" y="22.3" font-family="Liberation Serif" font-size="24" fill="#6a6a6a" text-anchor="start" font-weight="normal" >(a)</text>
<text x="387.8" y="18.5" font-family="Liberation Serif" font-size="24" fill="#6a6a6a" text-anchor="start" font-weight="normal" >(b)</text>
<text x="28.8" y="475" font-family="Liberation Serif" font-size="24" fill="#6a6a6a" text-anchor="start" font-weight="normal" >(c)</text>
<text x="387.8" y="474.6" font-family="Liberation Serif" font-size="24" fill="#6a6a6a" text-anchor="start" font-weight="normal" >(d)</text>
<text x="70.3" y="435.9" font-family="Liberation Serif" font-size="12.2" fill="#000" text-anchor="middle" font-weight="normal" letter-spacing="1.2" stroke="#000" stroke-width="0.25">10</text>
<text x="130.8" y="435.9" font-family="Liberation Serif" font-size="12.2" fill="#000" text-anchor="middle" font-weight="normal" letter-spacing="1.2" stroke="#000" stroke-width="0.25">15</text>
<text x="191.1" y="435.9" font-family="Liberation Sans" font-size="12.6" fill="#111" text-anchor="middle" font-weight="normal" letter-spacing="0.9">20</text>
<text x="251.6" y="435.9" font-family="Liberation Sans" font-size="12.6" fill="#111" text-anchor="middle" font-weight="normal" letter-spacing="0.9">25</text>
<text x="312.1" y="435.9" font-family="Liberation Sans" font-size="12.6" fill="#111" text-anchor="middle" font-weight="normal" letter-spacing="0.9">30</text>
<text x="429.3" y="435.9" font-family="Liberation Serif" font-size="12.2" fill="#000" text-anchor="middle" font-weight="normal" letter-spacing="1.2" stroke="#000" stroke-width="0.25">10</text>
<text x="489.8" y="435.9" font-family="Liberation Serif" font-size="12.2" fill="#000" text-anchor="middle" font-weight="normal" letter-spacing="1.2" stroke="#000" stroke-width="0.25">15</text>
<text x="550.1" y="435.9" font-family="Liberation Sans" font-size="12.6" fill="#111" text-anchor="middle" font-weight="normal" letter-spacing="0.9">20</text>
<text x="610.6" y="435.9" font-family="Liberation Sans" font-size="12.6" fill="#111" text-anchor="middle" font-weight="normal" letter-spacing="0.9">25</text>
<text x="671.1" y="435.9" font-family="Liberation Sans" font-size="12.6" fill="#111" text-anchor="middle" font-weight="normal" letter-spacing="0.9">30</text>
<text x="70" y="891.9" font-family="Liberation Serif" font-size="12.2" fill="#000" text-anchor="middle" font-weight="normal" letter-spacing="1.2" stroke="#000" stroke-width="0.25">10</text>
<text x="130.5" y="891.9" font-family="Liberation Serif" font-size="12.2" fill="#000" text-anchor="middle" font-weight="normal" letter-spacing="1.2" stroke="#000" stroke-width="0.25">15</text>
<text x="190.8" y="891.9" font-family="Liberation Sans" font-size="12.6" fill="#111" text-anchor="middle" font-weight="normal" letter-spacing="0.9">20</text>
<text x="251.3" y="891.9" font-family="Liberation Sans" font-size="12.6" fill="#111" text-anchor="middle" font-weight="normal" letter-spacing="0.9">25</text>
<text x="311.8" y="891.9" font-family="Liberation Sans" font-size="12.6" fill="#111" text-anchor="middle" font-weight="normal" letter-spacing="0.9">30</text>
<text x="429.6" y="891.9" font-family="Liberation Serif" font-size="12.2" fill="#000" text-anchor="middle" font-weight="normal" letter-spacing="1.2" stroke="#000" stroke-width="0.25">10</text>
<text x="490.1" y="891.9" font-family="Liberation Serif" font-size="12.2" fill="#000" text-anchor="middle" font-weight="normal" letter-spacing="1.2" stroke="#000" stroke-width="0.25">15</text>
<text x="550.4" y="891.9" font-family="Liberation Sans" font-size="12.6" fill="#111" text-anchor="middle" font-weight="normal" letter-spacing="0.9">20</text>
<text x="610.9" y="891.9" font-family="Liberation Sans" font-size="12.6" fill="#111" text-anchor="middle" font-weight="normal" letter-spacing="0.9">25</text>
<text x="671.4" y="891.9" font-family="Liberation Sans" font-size="12.6" fill="#111" text-anchor="middle" font-weight="normal" letter-spacing="0.9">30</text>
<text x="69.7" y="408" font-family="Liberation Serif" font-size="14.5" fill="#6a6a6a" text-anchor="middle" font-weight="normal" >Ne</text>
<text x="93.9" y="408" font-family="Liberation Serif" font-size="14.5" fill="#6a6a6a" text-anchor="middle" font-weight="normal" >Mg</text>
<text x="118.1" y="408" font-family="Liberation Serif" font-size="14.5" fill="#6a6a6a" text-anchor="middle" font-weight="normal" >Si</text>
<text x="142.3" y="408" font-family="Liberation Serif" font-size="14.5" fill="#6a6a6a" text-anchor="middle" font-weight="normal" >S</text>
<text x="166.5" y="408" font-family="Liberation Serif" font-size="14.5" fill="#6a6a6a" text-anchor="middle" font-weight="normal" >Ar</text>
<text x="190.7" y="408" font-family="Liberation Serif" font-size="14.5" fill="#6a6a6a" text-anchor="middle" font-weight="normal" >Ca</text>
<text x="287.5" y="408" font-family="Liberation Serif" font-size="14.5" fill="#6a6a6a" text-anchor="middle" font-weight="normal" >Ni</text>
<text x="428.7" y="398" font-family="Liberation Serif" font-size="14.5" fill="#6a6a6a" text-anchor="middle" font-weight="normal" >Ne</text>
<text x="452.9" y="398" font-family="Liberation Serif" font-size="14.5" fill="#6a6a6a" text-anchor="middle" font-weight="normal" >Mg</text>
<text x="477.1" y="398" font-family="Liberation Serif" font-size="14.5" fill="#6a6a6a" text-anchor="middle" font-weight="normal" >Si</text>
<text x="501.3" y="398" font-family="Liberation Serif" font-size="14.5" fill="#6a6a6a" text-anchor="middle" font-weight="normal" >S</text>
<text x="525.5" y="398" font-family="Liberation Serif" font-size="14.5" fill="#6a6a6a" text-anchor="middle" font-weight="normal" >Ar</text>
<text x="549.7" y="398" font-family="Liberation Serif" font-size="14.5" fill="#6a6a6a" text-anchor="middle" font-weight="normal" >Ca</text>
<text x="622.3" y="398" font-family="Liberation Serif" font-size="14.5" fill="#6a6a6a" text-anchor="middle" font-weight="normal" >Fe</text>
<text x="646.5" y="398" font-family="Liberation Serif" font-size="14.5" fill="#6a6a6a" text-anchor="middle" font-weight="normal" >Ni</text>
<text x="404.8" y="868" font-family="Liberation Serif" font-size="14.5" fill="#6a6a6a" text-anchor="middle" font-weight="normal" >O</text>
<text x="429" y="868" font-family="Liberation Serif" font-size="14.5" fill="#6a6a6a" text-anchor="middle" font-weight="normal" >Ne</text>
<text x="453.2" y="868" font-family="Liberation Serif" font-size="14.5" fill="#6a6a6a" text-anchor="middle" font-weight="normal" >Mg</text>
<text x="477.4" y="868" font-family="Liberation Serif" font-size="14.5" fill="#6a6a6a" text-anchor="middle" font-weight="normal" >Si</text>
<text x="501.6" y="868" font-family="Liberation Serif" font-size="14.5" fill="#6a6a6a" text-anchor="middle" font-weight="normal" >S</text>
<text x="525.8" y="868" font-family="Liberation Serif" font-size="14.5" fill="#6a6a6a" text-anchor="middle" font-weight="normal" >Ar</text>
<text x="550" y="868" font-family="Liberation Serif" font-size="14.5" fill="#6a6a6a" text-anchor="middle" font-weight="normal" >Ca</text>
<text x="598.4" y="868" font-family="Liberation Serif" font-size="14.5" fill="#6a6a6a" text-anchor="middle" font-weight="normal" >Cr</text>
<text x="610.5" y="868" font-family="Liberation Serif" font-size="14.5" fill="#6a6a6a" text-anchor="middle" font-weight="normal" >Mn</text>
<text x="622.6" y="868" font-family="Liberation Serif" font-size="14.5" fill="#6a6a6a" text-anchor="middle" font-weight="normal" >Fe</text>
<text x="646.8" y="868" font-family="Liberation Serif" font-size="14.5" fill="#6a6a6a" text-anchor="middle" font-weight="normal" >Ni</text>
<text x="671" y="868" font-family="Liberation Serif" font-size="14.5" fill="#6a6a6a" text-anchor="middle" font-weight="normal" >Zn</text>
<text x="25.2" y="127.94" font-family="Liberation Sans" font-size="12" fill="#111" text-anchor="middle" font-weight="normal" transform="rotate(-90 25.2 127.94)" letter-spacing="0.9">2</text>
<text x="25.2" y="296.25" font-family="Liberation Sans" font-size="12" fill="#111" text-anchor="middle" font-weight="normal" transform="rotate(-90 25.2 296.25)" letter-spacing="0.9">1</text>
<text x="385" y="29.65" font-family="Liberation Sans" font-size="12" fill="#111" text-anchor="middle" font-weight="normal" transform="rotate(-90 385 29.65)" letter-spacing="0.9">0.4</text>
<text x="385" y="141.55" font-family="Liberation Sans" font-size="12" fill="#111" text-anchor="middle" font-weight="normal" transform="rotate(-90 385 141.55)" letter-spacing="0.9">0.2</text>
<text x="385" y="253.45" font-family="Liberation Sans" font-size="12" fill="#111" text-anchor="middle" font-weight="normal" transform="rotate(-90 385 253.45)" letter-spacing="0.9">0</text>
<text x="385" y="365.35" font-family="Liberation Sans" font-size="12" fill="#111" text-anchor="middle" font-weight="normal" transform="rotate(-90 385 365.35)" letter-spacing="0.9">−0.2</text>
<text x="25.2" y="533.15" font-family="Liberation Sans" font-size="12" fill="#111" text-anchor="middle" font-weight="normal" transform="rotate(-90 25.2 533.15)" letter-spacing="0.9">2</text>
<text x="25.2" y="614.85" font-family="Liberation Sans" font-size="12" fill="#111" text-anchor="middle" font-weight="normal" transform="rotate(-90 25.2 614.85)" letter-spacing="0.9">1</text>
<text x="25.2" y="696.55" font-family="Liberation Sans" font-size="12" fill="#111" text-anchor="middle" font-weight="normal" transform="rotate(-90 25.2 696.55)" letter-spacing="0.9">0.5</text>
<text x="25.2" y="804.55" font-family="Liberation Sans" font-size="12" fill="#111" text-anchor="middle" font-weight="normal" transform="rotate(-90 25.2 804.55)" letter-spacing="0.9">0.2</text>
<text x="385" y="485.25" font-family="Liberation Sans" font-size="12" fill="#111" text-anchor="middle" font-weight="normal" transform="rotate(-90 385 485.25)" letter-spacing="0.9">10</text>
<text x="385" y="680.75" font-family="Liberation Sans" font-size="12" fill="#111" text-anchor="middle" font-weight="normal" transform="rotate(-90 385 680.75)" letter-spacing="0.9">1</text>
<text x="385" y="876.25" font-family="Liberation Sans" font-size="12" fill="#111" text-anchor="middle" font-weight="normal" transform="rotate(-90 385 876.25)" letter-spacing="0.9">0.1</text>
<text transform="translate(9.4 271.1) rotate(-90)" font-family="Liberation Serif" font-size="13" fill="#6a6a6a" textLength="81.1" lengthAdjust="spacing">(X/Fe)/(X/Fe)</text>
<text transform="translate(14.6 188.5) rotate(-90)" font-family="Liberation Serif" font-size="10.5" fill="#333" textLength="16.2" lengthAdjust="spacing">sun</text>
<text transform="translate(9.4 730.2) rotate(-90)" font-family="Liberation Serif" font-size="13" fill="#6a6a6a" textLength="84.7" lengthAdjust="spacing">(X/Fe)/(X/Fe)</text>
<text transform="translate(14.6 644) rotate(-90)" font-family="Liberation Serif" font-size="10.5" fill="#333" textLength="15.5" lengthAdjust="spacing">sun</text>
<text transform="translate(368.3 729.5) rotate(-90)" font-family="Liberation Serif" font-size="13" fill="#6a6a6a" textLength="84" lengthAdjust="spacing">(X/Fe)/(X/Fe)</text>
<text transform="translate(373.5 644) rotate(-90)" font-family="Liberation Serif" font-size="10.5" fill="#333" textLength="15.5" lengthAdjust="spacing">sun</text>
<text x="369.6" y="268.8" font-family="Liberation Serif" font-size="13" fill="#6a6a6a" text-anchor="start" font-weight="normal" textLength="88.3" lengthAdjust="spacing" transform="rotate(-90 369.6 268.8)" >Relative Ratio</text>
<text x="129.6" y="918.4" font-family="Liberation Serif" font-size="14" fill="#6a6a6a" text-anchor="start" font-weight="normal" textLength="97.1" lengthAdjust="spacing" >Atomic Number</text>
<text x="489.2" y="918.4" font-family="Liberation Serif" font-size="14" fill="#6a6a6a" text-anchor="start" font-weight="normal" textLength="97.3" lengthAdjust="spacing" >Atomic Number</text>
<text x="85" y="86.9" font-family="Liberation Serif" font-size="16" fill="#777" text-anchor="start" font-weight="normal" textLength="60.2" lengthAdjust="spacing" >0′.5−2′</text>
<text x="85" y="111.6" font-family="Liberation Serif" font-size="16" fill="#777" text-anchor="start" font-weight="normal" textLength="43.4" lengthAdjust="spacing" >2′−4′</text>
<text x="85" y="135.7" font-family="Liberation Serif" font-size="17" fill="#111" text-anchor="start" font-weight="normal" textLength="55" lengthAdjust="spacing" >4′−10′</text>
<text x="524.3" y="62.4" font-family="Liberation Serif" font-size="18.5" fill="#6a6a6a" text-anchor="start" font-weight="normal" >FI</text>
<text x="524.3" y="86.9" font-family="Liberation Serif" font-size="18.5" fill="#6a6a6a" text-anchor="start" font-weight="normal" >BI</text>
<text x="610.6" y="62.4" font-family="Liberation Serif" font-size="18.5" fill="#6a6a6a" text-anchor="start" font-weight="normal" textLength="61.6" lengthAdjust="spacing" >0.5′−2′</text>
<text x="610.6" y="86.9" font-family="Liberation Serif" font-size="18.5" fill="#6a6a6a" text-anchor="start" font-weight="normal" textLength="43.6" lengthAdjust="spacing" >2′−4′</text>
<text x="91.2" y="760" font-family="Liberation Serif" font-size="12" fill="#555" text-anchor="start" font-weight="normal" textLength="108.4" lengthAdjust="spacingAndGlyphs" >Perseus (Suzaku)</text>
<text x="91.2" y="785.4" font-family="Liberation Serif" font-size="12" fill="#e04848" text-anchor="start" font-weight="normal" textLength="42.6" lengthAdjust="spacingAndGlyphs" >Fornax</text>
<text x="91.2" y="809.5" font-family="Liberation Serif" font-size="12" fill="#50d850" text-anchor="start" font-weight="normal" textLength="35.6" lengthAdjust="spacingAndGlyphs" >A1060</text>
<text x="91.2" y="834.4" font-family="Liberation Serif" font-size="12" fill="#4848d0" text-anchor="start" font-weight="normal" textLength="35.6" lengthAdjust="spacingAndGlyphs" >22 CG</text>
<text x="91.2" y="858.9" font-family="Liberation Serif" font-size="12" fill="#40e0e0" text-anchor="start" font-weight="normal" textLength="23.3" lengthAdjust="spacingAndGlyphs" >M87</text>
<text x="552.9" y="514.6" font-family="Liberation Serif" font-size="10.5" fill="#555" text-anchor="start" font-weight="normal" textLength="80.8" lengthAdjust="spacing" stroke="#555" stroke-width="0.35">Metal Poor Stars</text>
</svg>
</body></html>
